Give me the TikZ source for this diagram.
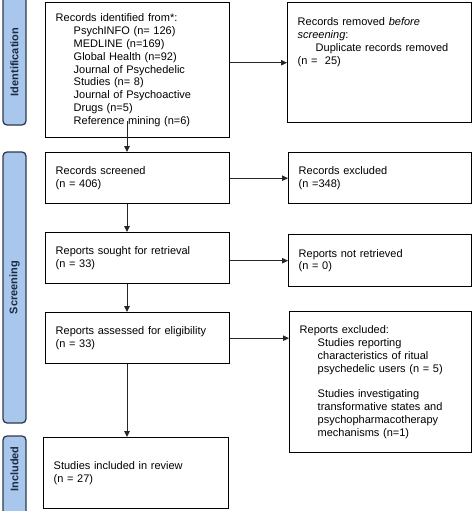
\documentclass[tikz,border=0pt]{standalone}
\usepackage{fontspec}
\setmainfont{Liberation Sans}
\usetikzlibrary{arrows.meta,calc}
\definecolor{phasefill}{HTML}{A9C7EC}
\definecolor{phasedraw}{HTML}{2E3B4E}
\definecolor{phasetext}{HTML}{1C2A44}
\begin{document}
\begin{tikzpicture}[x=1pt,y=-1pt,
  box/.style={draw=black, line width=1.4pt, anchor=north west, inner ysep=0pt, inner xsep=10pt,
    align=left, font=\fontsize{11pt}{12.8pt}\selectfont},
  phase/.style={draw=phasedraw, line width=1.3pt, fill=phasefill, rounded corners=4pt},
  plabel/.style={rotate=90, font=\fontsize{11pt}{13pt}\selectfont\bfseries, text=phasetext},
  arr/.style={draw=black!85, line width=1pt, -{Triangle[length=6pt,width=5.5pt]}}]
\useasboundingbox (0,0) rectangle (474,511);

% phase bars
\draw[phase] (3,-4) rectangle (26,125);
\node[plabel] (l1) at (14.5,62) {Identification};
\draw[phase] (3,152) rectangle (26,423);
\node[plabel] (l2) at (14.5,287.5) {Screening};
\draw[phase] (3,436) rectangle (26,516);
\node[plabel] (l3) at (14.5,469) {Included};

% left column
\node[box, text width=164pt, minimum height=135pt] (b1) at (45,2) {Records identified from*:\\
\hspace*{18pt}PsychINFO (n= 126)\\
\hspace*{18pt}MEDLINE (n=169)\\
\hspace*{18pt}Global Health (n=92)\\
\hspace*{18pt}Journal of Psychedelic\\
\hspace*{18pt}Studies (n= 8)\\
\hspace*{18pt}Journal of Psychoactive\\
\hspace*{18pt}Drugs (n=5)\\
\hspace*{18pt}Reference mining (n=6)};
\node[box, text width=164pt, minimum height=51pt] (b2) at (45,152) {Records screened\\(n = 406)};
\node[box, text width=164pt, minimum height=51pt] (b3) at (45,232) {Reports sought for retrieval\\(n = 33)};
\node[box, text width=164pt, minimum height=51pt] (b4) at (45,312) {Reports assessed for eligibility\\(n = 33)};
\node[box, text width=165pt, minimum height=71pt] (b5) at (43,437) {Studies included in review\\(n = 27)};

% right column
\node[box, text width=164pt, minimum height=120pt] (r1) at (287,2) {\parbox[c][120pt][t]{164pt}{\raggedright\vspace*{15pt}Records removed \textit{before}\\
\textit{screening}:\\
\hspace*{18pt}Duplicate records removed\\
(n =\ \ 25)}};
\node[box, text width=163pt, minimum height=51pt] (r2) at (288,152) {Records excluded\\(n =348)};
\node[box, text width=163pt, minimum height=52pt] (r3) at (288,234) {Reports not retrieved\\(n = 0)};
\node[box, text width=162pt, minimum height=141pt] (r4) at (289,311) {Reports excluded:\\
\hspace*{18pt}Studies reporting\\
\hspace*{18pt}characteristics of ritual\\
\hspace*{18pt}psychedelic users (n = 5)\\[13pt]
\hspace*{18pt}Studies investigating\\
\hspace*{18pt}transformative states and\\
\hspace*{18pt}psychopharmacotherapy\\
\hspace*{18pt}mechanisms (n=1)};

% connectors
\coordinate (vx) at (127,0);
\draw[arr] ($(vx |- b1.south)+(0,-17)$) -- (vx |- b2.north);
\draw[arr] (vx |- b2.south) -- (vx |- b3.north);
\draw[arr] (vx |- b3.south) -- (vx |- b4.north);
\draw[arr] (vx |- b4.south) -- (vx |- b5.north);
\draw[arr] (b1.east |- r1.west) -- (r1.west);
\draw[arr] (b2.east) -- (r2.west |- b2.east);
\draw[arr] (b3.east |- r3.west) -- (r3.west);
\draw[arr] (b4.east) -- (r4.west |- b4.east);
\end{tikzpicture}
\end{document}
